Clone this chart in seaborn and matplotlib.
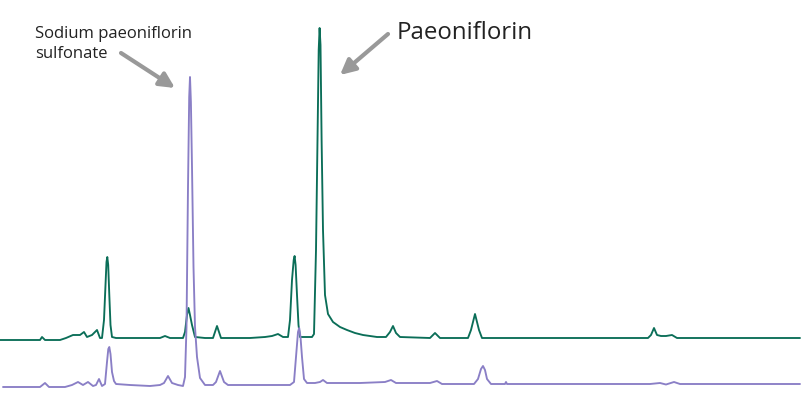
import matplotlib
matplotlib.use("Agg")
import matplotlib.pyplot as plt
import seaborn as sns

# chromatogram traces, x = retention (px-scale units), value = response above baseline
green_x = [0, 40, 42, 45, 60, 66, 73, 80, 84, 87, 92, 97, 100, 102, 104, 105.5, 106.5, 107.3, 108.2, 109.3, 110.5, 112,
           116, 130, 160, 165, 170, 183, 185, 187, 188.5, 190, 192, 195, 205, 213, 217, 221, 250,
           265, 272, 278, 283, 288, 290, 292, 293.7, 294.6, 295.6, 297, 298.5, 300, 312, 314, 316, 317.5,
           318.7, 319.6, 320.5, 321.6, 323, 325, 328, 333, 340, 347, 355, 363, 377, 386, 390, 393, 396,
           400, 430, 435, 440, 468, 471, 475, 479, 482, 648, 651, 654, 657, 661, 666, 672, 677, 800]
green_y = [0, 0, 3, 0, 0, 2, 5, 5, 8, 3, 5, 10, 2, 2, 20, 55, 78, 83, 75, 45, 15, 3,
           2, 2, 2, 4, 2, 2, 8, 25, 32, 25, 15, 3, 2, 2, 14, 2, 2,
           3, 4, 6, 3, 3, 20, 60, 80, 84, 75, 45, 15, 3, 3, 6, 90, 200,
           290, 312, 295, 200, 110, 45, 26, 18, 13, 10, 7, 5, 3, 3, 8, 14, 7,
           3, 2, 7, 2, 2, 10, 26, 10, 2, 2, 5, 12, 5, 4, 4, 5, 2, 2]

purple_x = [3, 40, 45, 49, 65, 72, 78, 83, 88, 93, 96, 99, 102, 105, 107, 108.3, 109.3, 110.5, 112, 114, 116,
            130, 150, 160, 164, 168, 172, 178, 183, 185, 186.5, 188, 189.2, 190, 190.9, 192, 193.5, 195, 197,
            200, 205, 213, 216, 220, 224, 228, 260, 290, 294, 296, 298, 299.2, 300.5, 302, 304, 307, 315, 320,
            323, 327, 360, 385, 391, 396, 430, 437, 442, 474, 478, 481, 483, 485, 487, 491, 505, 506, 507,
            650, 660, 666, 674, 680, 800]
purple_y = [0, 0, 4, 0, 0, 2, 5, 2, 5, 1, 2, 8, 1, 3, 25, 38, 40, 33, 15, 6, 3,
            2, 1, 2, 4, 11, 4, 2, 1, 10, 60, 200, 290, 310, 285, 220, 120, 60, 30,
            9, 2, 2, 5, 16, 5, 2, 2, 2, 5, 30, 55, 59, 50, 30, 8, 4, 4, 5,
            7, 4, 4, 5, 7, 4, 4, 6, 3, 3, 8, 18, 21, 17, 8, 3, 3, 5, 3,
            3, 4, 2.5, 5, 3, 3]

green_offset = 67
purple_offset = 20

sns.set_style("white")
fig = plt.figure(figsize=(8.02, 4.07), dpi=100)
ax = fig.add_axes([0, 0, 1, 1])

sns.lineplot(x=green_x, y=[v + green_offset for v in green_y], ax=ax, color="#0b6e58",
             lw=1.35, sort=False, estimator=None)
sns.lineplot(x=purple_x, y=[v + purple_offset for v in purple_y], ax=ax, color="#8a7fc6",
             lw=1.35, sort=False, estimator=None)

ax.set_xlim(0, 802)
ax.set_ylim(0, 407)
ax.axis("off")

arrow = dict(arrowstyle="-|>,head_length=0.9,head_width=0.45", color="#999999", lw=3,
             shrinkA=0, shrinkB=0)
ax.annotate("", xy=(175, 407 - 88), xytext=(121, 407 - 53), arrowprops=arrow)
ax.annotate("", xy=(340, 407 - 75), xytext=(388, 407 - 34), arrowprops=arrow)

ax.text(35, 407 - 58, "Sodium paeoniflorin\nsulfonate", fontsize=12, family="Open Sans",
        color="#222222", va="baseline", linespacing=1.3)
ax.text(397, 407 - 39, "Paeoniflorin", fontsize=17.3, family="Open Sans",
        color="#222222", va="baseline")

fig.savefig("out.png", dpi=100)
